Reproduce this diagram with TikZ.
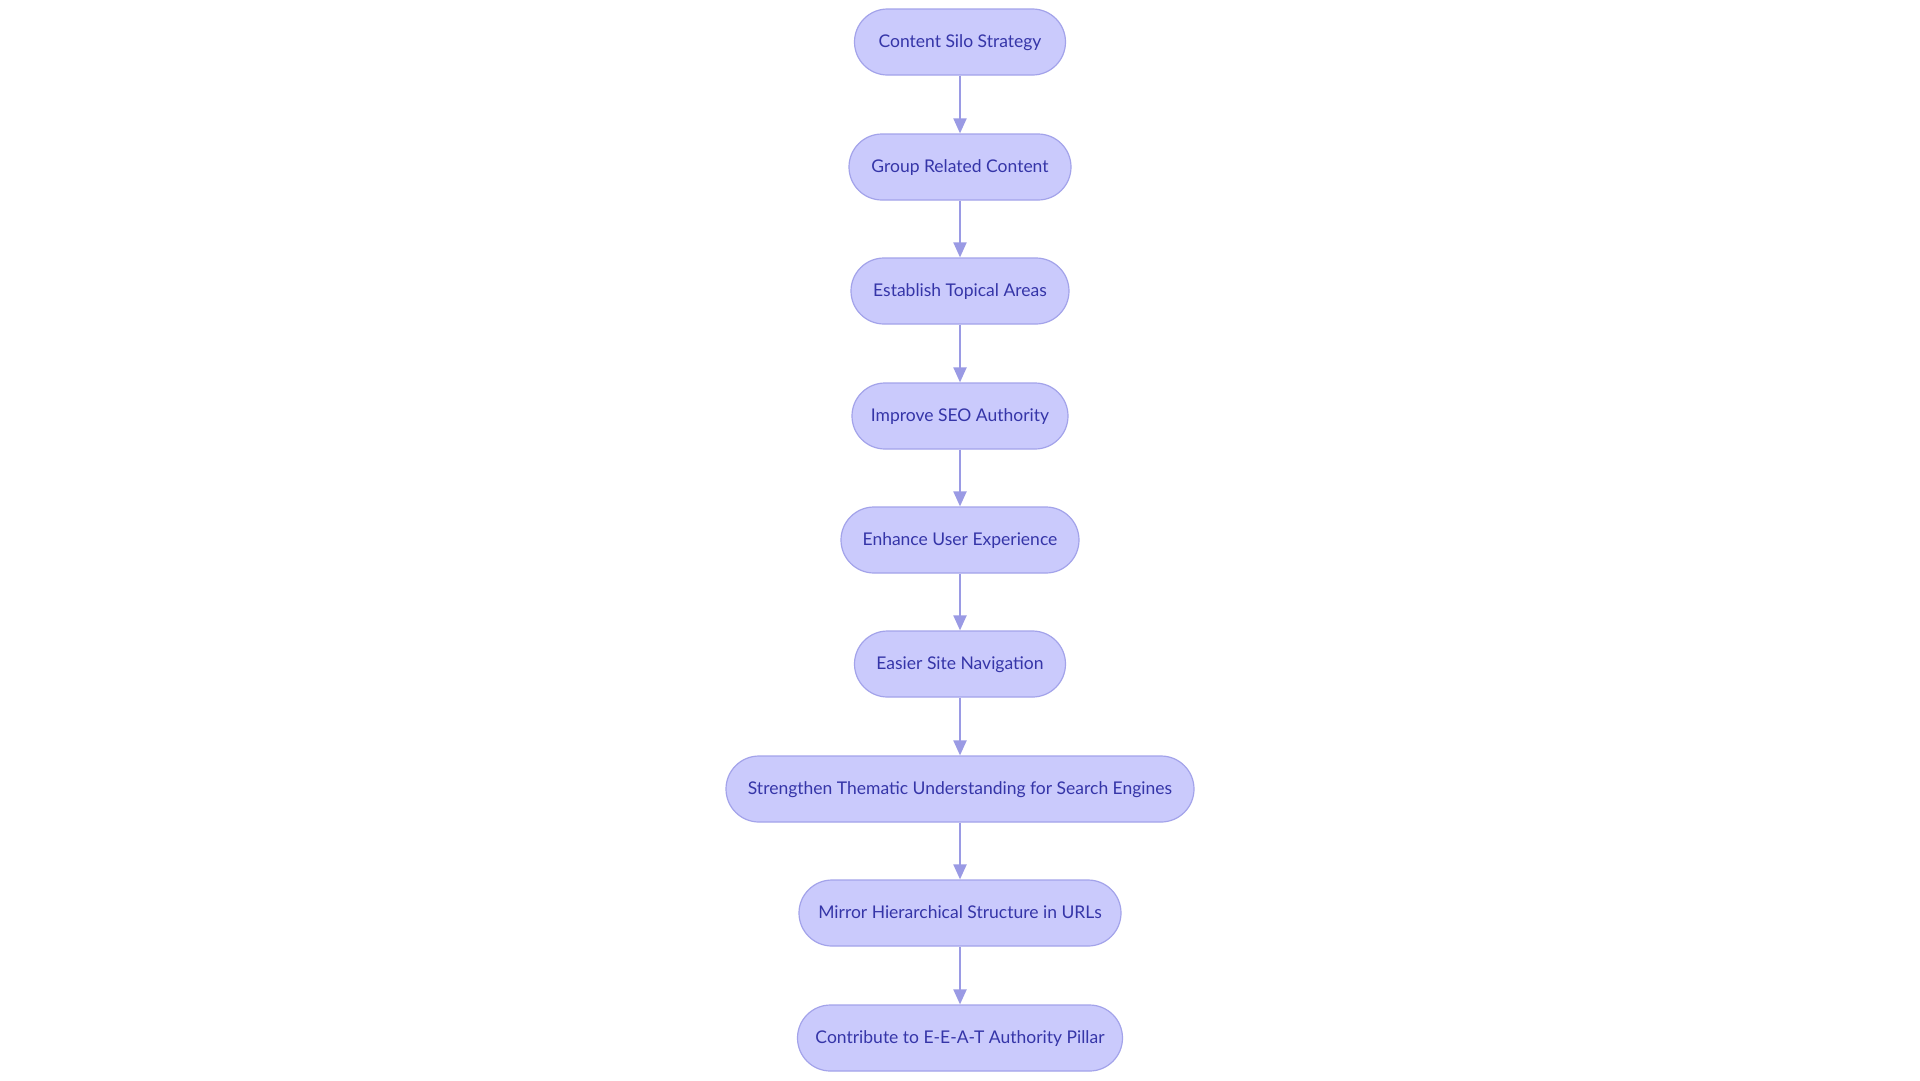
\documentclass[tikz,border=0pt]{standalone}
\usepackage{fontspec}
\setmainfont{Lato}
\usetikzlibrary{arrows.meta}
\definecolor{nfill}{HTML}{CACAFC}
\definecolor{nline}{HTML}{A3A3EA}
\definecolor{ntext}{HTML}{3535A8}
\definecolor{aline}{HTML}{9A9AE4}
\tikzset{
  pill/.style={draw=nline, line width=1.2pt, fill=nfill, text=ntext, rounded corners=33pt,
    minimum height=66pt, inner sep=0pt, text height=12pt, text depth=0.5pt, font=\fontsize{17.5}{20}\selectfont},
  conn/.style={draw=aline, line width=2pt, -{Triangle[length=15pt,width=13pt]}}
}
\begin{document}
\begin{tikzpicture}[x=1pt,y=1pt]
\useasboundingbox (0,0) rectangle (1920,-1080);
\fill[white] (0,0) rectangle (1920,-1080);
\node[pill, minimum width=211pt] (n1) at (960,-42) {Content Silo Strategy};
\node[pill, minimum width=222pt] (n2) at (960,-167) {Group Related Content};
\node[pill, minimum width=218pt] (n3) at (960,-291) {Establish Topical Areas};
\node[pill, minimum width=216pt] (n4) at (960,-416) {Improve SEO Authority};
\node[pill, minimum width=238pt] (n5) at (960,-540) {Enhance User Experience};
\node[pill, minimum width=211pt] (n6) at (960,-664) {Easier Site Navigation};
\node[pill, minimum width=468pt] (n7) at (960,-789) {Strengthen Thematic Understanding for Search Engines};
\node[pill, minimum width=322pt] (n8) at (960,-913) {Mirror Hierarchical Structure in URLs};
\node[pill, minimum width=325pt] (n9) at (960,-1038) {Contribute to E-E-A-T Authority Pillar};
\foreach \a/\b in {n1/n2,n2/n3,n3/n4,n4/n5,n5/n6,n6/n7,n7/n8,n8/n9}
  \draw[conn] (\a) -- (\b);
\end{tikzpicture}
\end{document}
